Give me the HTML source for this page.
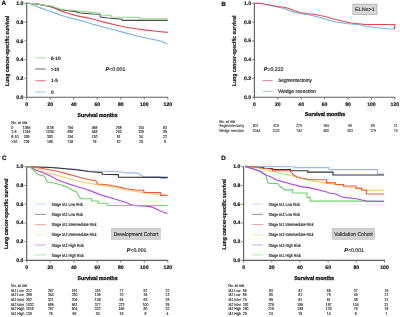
<!DOCTYPE html>
<html><head><meta charset="utf-8"><title>Kaplan-Meier curves</title>
<style>
html,body{margin:0;padding:0;background:#fff;}
body{width:400px;height:317px;overflow:hidden;}
svg{display:block;font-family:"Liberation Sans", sans-serif;text-rendering:geometricPrecision;filter:blur(0.3px);}
</style></head><body>
<svg width="400" height="317" viewBox="0 0 400 317">
<rect width="400" height="317" fill="#fff"/>
<text x="1.6" y="5.3" font-size="6.3" font-weight="bold" text-anchor="start" fill="#111" stroke="#111" stroke-width="0.22">A</text>
<line x1="26.7" y1="2.8" x2="26.7" y2="97.7" stroke="#606060" stroke-width="1.15"/>
<line x1="26.2" y1="97.2" x2="168.20000000000002" y2="97.2" stroke="#606060" stroke-width="1.15"/>
<line x1="24.4" y1="97.2" x2="26.7" y2="97.2" stroke="#606060" stroke-width="0.8"/>
<text x="23.4" y="99.05" font-size="5.1" font-weight="bold" text-anchor="end" fill="#1a1a1a" stroke="#1a1a1a" stroke-width="0.22">0.0</text>
<line x1="24.4" y1="78.42" x2="26.7" y2="78.42" stroke="#606060" stroke-width="0.8"/>
<text x="23.4" y="80.27" font-size="5.1" font-weight="bold" text-anchor="end" fill="#1a1a1a" stroke="#1a1a1a" stroke-width="0.22">0.2</text>
<line x1="24.4" y1="59.64" x2="26.7" y2="59.64" stroke="#606060" stroke-width="0.8"/>
<text x="23.4" y="61.49" font-size="5.1" font-weight="bold" text-anchor="end" fill="#1a1a1a" stroke="#1a1a1a" stroke-width="0.22">0.4</text>
<line x1="24.4" y1="40.85999999999999" x2="26.7" y2="40.85999999999999" stroke="#606060" stroke-width="0.8"/>
<text x="23.4" y="42.709999999999994" font-size="5.1" font-weight="bold" text-anchor="end" fill="#1a1a1a" stroke="#1a1a1a" stroke-width="0.22">0.6</text>
<line x1="24.4" y1="22.08" x2="26.7" y2="22.08" stroke="#606060" stroke-width="0.8"/>
<text x="23.4" y="23.93" font-size="5.1" font-weight="bold" text-anchor="end" fill="#1a1a1a" stroke="#1a1a1a" stroke-width="0.22">0.8</text>
<line x1="24.4" y1="3.299999999999997" x2="26.7" y2="3.299999999999997" stroke="#606060" stroke-width="0.8"/>
<text x="23.4" y="5.149999999999997" font-size="5.1" font-weight="bold" text-anchor="end" fill="#1a1a1a" stroke="#1a1a1a" stroke-width="0.22">1.0</text>
<line x1="26.7" y1="97.2" x2="26.7" y2="99.5" stroke="#606060" stroke-width="0.8"/>
<text x="26.7" y="106.10000000000001" font-size="5.1" font-weight="bold" text-anchor="middle" fill="#1a1a1a" stroke="#1a1a1a" stroke-width="0.22">0</text>
<line x1="50.21666666666667" y1="97.2" x2="50.21666666666667" y2="99.5" stroke="#606060" stroke-width="0.8"/>
<text x="50.21666666666667" y="106.10000000000001" font-size="5.1" font-weight="bold" text-anchor="middle" fill="#1a1a1a" stroke="#1a1a1a" stroke-width="0.22">20</text>
<line x1="73.73333333333333" y1="97.2" x2="73.73333333333333" y2="99.5" stroke="#606060" stroke-width="0.8"/>
<text x="73.73333333333333" y="106.10000000000001" font-size="5.1" font-weight="bold" text-anchor="middle" fill="#1a1a1a" stroke="#1a1a1a" stroke-width="0.22">40</text>
<line x1="97.25000000000001" y1="97.2" x2="97.25000000000001" y2="99.5" stroke="#606060" stroke-width="0.8"/>
<text x="97.25000000000001" y="106.10000000000001" font-size="5.1" font-weight="bold" text-anchor="middle" fill="#1a1a1a" stroke="#1a1a1a" stroke-width="0.22">60</text>
<line x1="120.76666666666668" y1="97.2" x2="120.76666666666668" y2="99.5" stroke="#606060" stroke-width="0.8"/>
<text x="120.76666666666668" y="106.10000000000001" font-size="5.1" font-weight="bold" text-anchor="middle" fill="#1a1a1a" stroke="#1a1a1a" stroke-width="0.22">80</text>
<line x1="144.28333333333336" y1="97.2" x2="144.28333333333336" y2="99.5" stroke="#606060" stroke-width="0.8"/>
<text x="144.28333333333336" y="106.10000000000001" font-size="5.1" font-weight="bold" text-anchor="middle" fill="#1a1a1a" stroke="#1a1a1a" stroke-width="0.22">100</text>
<line x1="167.8" y1="97.2" x2="167.8" y2="99.5" stroke="#606060" stroke-width="0.8"/>
<text x="167.8" y="106.10000000000001" font-size="5.1" font-weight="bold" text-anchor="middle" fill="#1a1a1a" stroke="#1a1a1a" stroke-width="0.22">120</text>
<text transform="translate(8.7,50.85) rotate(-90)" x="0" y="0" font-size="5.6" font-weight="bold" text-anchor="middle" fill="#1a1a1a" stroke="#1a1a1a" stroke-width="0.22" textLength="70.10000000000001" lengthAdjust="spacingAndGlyphs">Lung cancer-specific survival</text>
<text x="97.6" y="117" font-size="5.6" font-weight="bold" text-anchor="middle" fill="#111" stroke="#111" stroke-width="0.3" textLength="40" lengthAdjust="spacingAndGlyphs">Survival months</text>
<path d="M26.7,3.3 L31,4 L36,6.2 L41,8.1 L46,10 L51,11.5 L56,13.4 L61,15.3 L66,16.8 L76,19.4 L86,22 L92,24 L96,25 L106,27.8 L116,30.3 L126,33.1 L136,35.7 L146,38 L156,40 L161,41.2 L167.5,44" fill="none" stroke="#78b2e2" stroke-width="1.15" stroke-opacity="1"/>
<path d="M26.7,3.3 L36,3.9 L44,5.4 L48,6.2 L52,7.3 L56,8.8 L60,10.6 L66,12.8 L76,15.6 L86,17.6 L92,18.8 L96,20 L106,22.6 L116,25 L126,27.3 L136,28.8 L146,30.1 L156,31.2 L167.7,32.4" fill="none" stroke="#e24a52" stroke-width="1.15" stroke-opacity="1"/>
<path d="M26.7,3.3 L36,3.8 L44,5.3 L52,6.6 L60,9.5 L66,10.5 L76,11.6 L80,13 L92,14 L100,14.3 L100.3,17 L108,18 L122,19.2 L122.3,20.4 L167.7,20.4" fill="none" stroke="#4a4a4a" stroke-width="1.15" stroke-opacity="1"/>
<path d="M26.7,3.3 L36,3.7 L44,5.1 L52,6.3 L60,9 L66,9.8 L76,10.8 L86,11.9 L92,12.4 L100,13.2 L100.3,15 L111,15.4 L111.3,17 L139,17.4 L139.3,18.8 L167.7,18.8" fill="none" stroke="#90da88" stroke-width="1.15" stroke-opacity="1"/>
<line x1="35.3" y1="57.8" x2="45.6" y2="57.8" stroke="#9edc98" stroke-width="1.0"/>
<text x="51.1" y="59.5" font-size="4.8" font-weight="bold" text-anchor="start" fill="#2a2a2a" stroke="#2a2a2a" stroke-width="0.12">6-10</text>
<line x1="35.3" y1="69" x2="45.6" y2="69" stroke="#666" stroke-width="1.0"/>
<text x="51.1" y="70.7" font-size="4.8" font-weight="bold" text-anchor="start" fill="#2a2a2a" stroke="#2a2a2a" stroke-width="0.12">&gt;10</text>
<line x1="35.3" y1="80.75" x2="45.6" y2="80.75" stroke="#ec6a72" stroke-width="1.0"/>
<text x="51.1" y="82.45" font-size="4.8" font-weight="bold" text-anchor="start" fill="#2a2a2a" stroke="#2a2a2a" stroke-width="0.12">1-5</text>
<line x1="35.3" y1="92" x2="45.6" y2="92" stroke="#98cbe2" stroke-width="1.0"/>
<text x="51.1" y="93.7" font-size="4.8" font-weight="bold" text-anchor="start" fill="#2a2a2a" stroke="#2a2a2a" stroke-width="0.12">0</text>
<text x="105.5" y="70.8" font-size="5.2" fill="#222" stroke="#222" stroke-width="0.14"><tspan font-style="italic" font-weight="bold" font-size="5.62">P</tspan>&lt;0.001</text>
<text transform="translate(11.2,124.1) scale(0.86,1)" font-size="4.2" font-weight="normal" text-anchor="start" fill="#222" stroke="#222" stroke-width="0.12">No. at risk</text>
<text transform="translate(11.2,128.8) scale(0.86,1)" font-size="4.2" font-weight="normal" text-anchor="start" fill="#222" stroke="#222" stroke-width="0.12">0</text>
<text transform="translate(26.6,128.8) scale(0.82,1)" font-size="4.2" font-weight="normal" text-anchor="middle" fill="#222" stroke="#222" stroke-width="0.12">1065</text>
<text transform="translate(49.9,128.8) scale(0.82,1)" font-size="4.2" font-weight="normal" text-anchor="middle" fill="#222" stroke="#222" stroke-width="0.12">1108</text>
<text transform="translate(70.4,128.8) scale(0.82,1)" font-size="4.2" font-weight="normal" text-anchor="middle" fill="#222" stroke="#222" stroke-width="0.12">754</text>
<text transform="translate(94.5,128.8) scale(0.82,1)" font-size="4.2" font-weight="normal" text-anchor="middle" fill="#222" stroke="#222" stroke-width="0.12">466</text>
<text transform="translate(118.7,128.8) scale(0.82,1)" font-size="4.2" font-weight="normal" text-anchor="middle" fill="#222" stroke="#222" stroke-width="0.12">268</text>
<text transform="translate(141,128.8) scale(0.82,1)" font-size="4.2" font-weight="normal" text-anchor="middle" fill="#222" stroke="#222" stroke-width="0.12">134</text>
<text transform="translate(165,128.8) scale(0.82,1)" font-size="4.2" font-weight="normal" text-anchor="middle" fill="#222" stroke="#222" stroke-width="0.12">63</text>
<text transform="translate(11.2,133.43) scale(0.86,1)" font-size="4.2" font-weight="normal" text-anchor="start" fill="#222" stroke="#222" stroke-width="0.12">1-5</text>
<text transform="translate(26.6,133.43) scale(0.82,1)" font-size="4.2" font-weight="normal" text-anchor="middle" fill="#222" stroke="#222" stroke-width="0.12">1246</text>
<text transform="translate(49.9,133.43) scale(0.82,1)" font-size="4.2" font-weight="normal" text-anchor="middle" fill="#222" stroke="#222" stroke-width="0.12">1036</text>
<text transform="translate(70.4,133.43) scale(0.82,1)" font-size="4.2" font-weight="normal" text-anchor="middle" fill="#222" stroke="#222" stroke-width="0.12">690</text>
<text transform="translate(94.5,133.43) scale(0.82,1)" font-size="4.2" font-weight="normal" text-anchor="middle" fill="#222" stroke="#222" stroke-width="0.12">446</text>
<text transform="translate(118.7,133.43) scale(0.82,1)" font-size="4.2" font-weight="normal" text-anchor="middle" fill="#222" stroke="#222" stroke-width="0.12">263</text>
<text transform="translate(141,133.43) scale(0.82,1)" font-size="4.2" font-weight="normal" text-anchor="middle" fill="#222" stroke="#222" stroke-width="0.12">130</text>
<text transform="translate(165,133.43) scale(0.82,1)" font-size="4.2" font-weight="normal" text-anchor="middle" fill="#222" stroke="#222" stroke-width="0.12">39</text>
<text transform="translate(11.2,138.06) scale(0.86,1)" font-size="4.2" font-weight="normal" text-anchor="start" fill="#222" stroke="#222" stroke-width="0.12">6-10</text>
<text transform="translate(26.6,138.06) scale(0.82,1)" font-size="4.2" font-weight="normal" text-anchor="middle" fill="#222" stroke="#222" stroke-width="0.12">309</text>
<text transform="translate(49.9,138.06) scale(0.82,1)" font-size="4.2" font-weight="normal" text-anchor="middle" fill="#222" stroke="#222" stroke-width="0.12">300</text>
<text transform="translate(70.4,138.06) scale(0.82,1)" font-size="4.2" font-weight="normal" text-anchor="middle" fill="#222" stroke="#222" stroke-width="0.12">194</text>
<text transform="translate(94.5,138.06) scale(0.82,1)" font-size="4.2" font-weight="normal" text-anchor="middle" fill="#222" stroke="#222" stroke-width="0.12">130</text>
<text transform="translate(118.7,138.06) scale(0.82,1)" font-size="4.2" font-weight="normal" text-anchor="middle" fill="#222" stroke="#222" stroke-width="0.12">81</text>
<text transform="translate(141,138.06) scale(0.82,1)" font-size="4.2" font-weight="normal" text-anchor="middle" fill="#222" stroke="#222" stroke-width="0.12">34</text>
<text transform="translate(165,138.06) scale(0.82,1)" font-size="4.2" font-weight="normal" text-anchor="middle" fill="#222" stroke="#222" stroke-width="0.12">22</text>
<text transform="translate(11.2,142.69) scale(0.86,1)" font-size="4.2" font-weight="normal" text-anchor="start" fill="#222" stroke="#222" stroke-width="0.12">&gt;10</text>
<text transform="translate(26.6,142.69) scale(0.82,1)" font-size="4.2" font-weight="normal" text-anchor="middle" fill="#222" stroke="#222" stroke-width="0.12">239</text>
<text transform="translate(49.9,142.69) scale(0.82,1)" font-size="4.2" font-weight="normal" text-anchor="middle" fill="#222" stroke="#222" stroke-width="0.12">186</text>
<text transform="translate(70.4,142.69) scale(0.82,1)" font-size="4.2" font-weight="normal" text-anchor="middle" fill="#222" stroke="#222" stroke-width="0.12">136</text>
<text transform="translate(94.5,142.69) scale(0.82,1)" font-size="4.2" font-weight="normal" text-anchor="middle" fill="#222" stroke="#222" stroke-width="0.12">79</text>
<text transform="translate(118.7,142.69) scale(0.82,1)" font-size="4.2" font-weight="normal" text-anchor="middle" fill="#222" stroke="#222" stroke-width="0.12">52</text>
<text transform="translate(141,142.69) scale(0.82,1)" font-size="4.2" font-weight="normal" text-anchor="middle" fill="#222" stroke="#222" stroke-width="0.12">25</text>
<text transform="translate(165,142.69) scale(0.82,1)" font-size="4.2" font-weight="normal" text-anchor="middle" fill="#222" stroke="#222" stroke-width="0.12">9</text>
<text x="221.5" y="5.8" font-size="6.0" font-weight="bold" text-anchor="start" fill="#111" stroke="#111" stroke-width="0.22">B</text>
<line x1="254.4" y1="2.8" x2="254.4" y2="97.7" stroke="#606060" stroke-width="1.15"/>
<line x1="253.9" y1="97.2" x2="395.2" y2="97.2" stroke="#606060" stroke-width="1.15"/>
<line x1="252.1" y1="97.2" x2="254.4" y2="97.2" stroke="#606060" stroke-width="0.8"/>
<text x="251.1" y="98.65" font-size="5.1" font-weight="bold" text-anchor="end" fill="#2a2a2a" stroke="#2a2a2a" stroke-width="0.22">0.0</text>
<line x1="252.1" y1="78.42" x2="254.4" y2="78.42" stroke="#606060" stroke-width="0.8"/>
<text x="251.1" y="79.87" font-size="5.1" font-weight="bold" text-anchor="end" fill="#2a2a2a" stroke="#2a2a2a" stroke-width="0.22">0.2</text>
<line x1="252.1" y1="59.64" x2="254.4" y2="59.64" stroke="#606060" stroke-width="0.8"/>
<text x="251.1" y="61.09" font-size="5.1" font-weight="bold" text-anchor="end" fill="#2a2a2a" stroke="#2a2a2a" stroke-width="0.22">0.4</text>
<line x1="252.1" y1="40.85999999999999" x2="254.4" y2="40.85999999999999" stroke="#606060" stroke-width="0.8"/>
<text x="251.1" y="42.309999999999995" font-size="5.1" font-weight="bold" text-anchor="end" fill="#2a2a2a" stroke="#2a2a2a" stroke-width="0.22">0.6</text>
<line x1="252.1" y1="22.08" x2="254.4" y2="22.08" stroke="#606060" stroke-width="0.8"/>
<text x="251.1" y="23.529999999999998" font-size="5.1" font-weight="bold" text-anchor="end" fill="#2a2a2a" stroke="#2a2a2a" stroke-width="0.22">0.8</text>
<line x1="252.1" y1="3.299999999999997" x2="254.4" y2="3.299999999999997" stroke="#606060" stroke-width="0.8"/>
<text x="251.1" y="4.749999999999997" font-size="5.1" font-weight="bold" text-anchor="end" fill="#2a2a2a" stroke="#2a2a2a" stroke-width="0.22">1.0</text>
<line x1="254.4" y1="97.2" x2="254.4" y2="99.5" stroke="#606060" stroke-width="0.8"/>
<text x="254.4" y="106.10000000000001" font-size="5.1" font-weight="bold" text-anchor="middle" fill="#2a2a2a" stroke="#2a2a2a" stroke-width="0.22">0</text>
<line x1="277.8" y1="97.2" x2="277.8" y2="99.5" stroke="#606060" stroke-width="0.8"/>
<text x="277.8" y="106.10000000000001" font-size="5.1" font-weight="bold" text-anchor="middle" fill="#2a2a2a" stroke="#2a2a2a" stroke-width="0.22">20</text>
<line x1="301.2" y1="97.2" x2="301.2" y2="99.5" stroke="#606060" stroke-width="0.8"/>
<text x="301.2" y="106.10000000000001" font-size="5.1" font-weight="bold" text-anchor="middle" fill="#2a2a2a" stroke="#2a2a2a" stroke-width="0.22">40</text>
<line x1="324.6" y1="97.2" x2="324.6" y2="99.5" stroke="#606060" stroke-width="0.8"/>
<text x="324.6" y="106.10000000000001" font-size="5.1" font-weight="bold" text-anchor="middle" fill="#2a2a2a" stroke="#2a2a2a" stroke-width="0.22">60</text>
<line x1="348.0" y1="97.2" x2="348.0" y2="99.5" stroke="#606060" stroke-width="0.8"/>
<text x="348.0" y="106.10000000000001" font-size="5.1" font-weight="bold" text-anchor="middle" fill="#2a2a2a" stroke="#2a2a2a" stroke-width="0.22">80</text>
<line x1="371.4" y1="97.2" x2="371.4" y2="99.5" stroke="#606060" stroke-width="0.8"/>
<text x="371.4" y="106.10000000000001" font-size="5.1" font-weight="bold" text-anchor="middle" fill="#2a2a2a" stroke="#2a2a2a" stroke-width="0.22">100</text>
<line x1="394.8" y1="97.2" x2="394.8" y2="99.5" stroke="#606060" stroke-width="0.8"/>
<text x="394.8" y="106.10000000000001" font-size="5.1" font-weight="bold" text-anchor="middle" fill="#2a2a2a" stroke="#2a2a2a" stroke-width="0.22">120</text>
<text transform="translate(236.1,50.800000000000004) rotate(-90)" x="0" y="0" font-size="5.6" font-weight="bold" text-anchor="middle" fill="#2a2a2a" stroke="#2a2a2a" stroke-width="0.22" textLength="70.2" lengthAdjust="spacingAndGlyphs">Lung cancer-specific survival</text>
<text x="325" y="116.4" font-size="5.6" font-weight="bold" text-anchor="middle" fill="#111" stroke="#111" stroke-width="0.3" textLength="40.5" lengthAdjust="spacingAndGlyphs">Survival months</text>
<path d="M254.4,3.3 L262,3.5 L264,4 L274,6.2 L284,8.5 L289,10.5 L294,12.3 L300,13.5 L310,15 L320,17.5 L325,19 L330,20.5 L336,22 L346,23.5 L356,24.5 L361,25 L366,26.5 L375,27.5 L385,28.5 L390,29 L395,29" fill="none" stroke="#78b2e2" stroke-width="1.15" stroke-opacity="1"/>
<path d="M254.4,3.3 L262,3.5 L264,4 L274,6 L284,7.2 L289,8.5 L290,9 L295,11 L300,12.5 L305,13.5 L310,14 L315,14.5 L320,15.5 L325,16.5 L330,18 L336,19.5 L340,20.5 L343,21.5 L346,22 L351,23 L356,23.5 L361,24 L365,24.5 L394.6,24.5 L394.6,29" fill="none" stroke="#e24a52" stroke-width="1.15" stroke-opacity="1"/>
<rect x="352.9" y="4.1" width="24.1" height="10.3" fill="#d8d8d8" stroke="#9a9a9a" stroke-width="0.6"/>
<text x="355" y="11.2" font-size="5" font-weight="normal" text-anchor="start" fill="#1a1a1a" stroke="#1a1a1a" stroke-width="0.1" textLength="19.8" lengthAdjust="spacingAndGlyphs">ELNs&gt;1</text>
<text x="263.7" y="70.9" font-size="5.2" fill="#222" stroke="#222" stroke-width="0.14"><tspan font-style="italic" font-weight="bold" font-size="5.62">P</tspan>=0.222</text>
<line x1="262.7" y1="80.6" x2="272.7" y2="80.6" stroke="#ec7078" stroke-width="0.9"/>
<text x="278.2" y="82.3" font-size="5" font-weight="normal" text-anchor="start" fill="#222" stroke="#222" stroke-width="0.15" textLength="33.7" lengthAdjust="spacingAndGlyphs">Segmentectomy</text>
<line x1="262.7" y1="91.5" x2="272.7" y2="91.5" stroke="#98cbe2" stroke-width="0.9"/>
<text x="278.2" y="93.2" font-size="5" font-weight="normal" text-anchor="start" fill="#222" stroke="#222" stroke-width="0.15" textLength="38" lengthAdjust="spacingAndGlyphs">Wedge resection</text>
<text transform="translate(219.2,122.6) scale(0.86,1)" font-size="4.2" font-weight="normal" text-anchor="start" fill="#222" stroke="#222" stroke-width="0.12">No. at risk</text>
<text x="219.2" y="127.3" font-size="4.2" font-weight="normal" text-anchor="start" fill="#222" stroke="#222" stroke-width="0.08" textLength="25" lengthAdjust="spacingAndGlyphs">Segmentectomy</text>
<text transform="translate(252.7,127.3) scale(0.82,1)" font-size="4.2" font-weight="normal" text-anchor="start" fill="#222" stroke="#222" stroke-width="0.08">501</text>
<text transform="translate(276,127.3) scale(0.82,1)" font-size="4.2" font-weight="normal" text-anchor="middle" fill="#222" stroke="#222" stroke-width="0.08">419</text>
<text transform="translate(299,127.3) scale(0.82,1)" font-size="4.2" font-weight="normal" text-anchor="middle" fill="#222" stroke="#222" stroke-width="0.08">279</text>
<text transform="translate(326,127.3) scale(0.82,1)" font-size="4.2" font-weight="normal" text-anchor="middle" fill="#222" stroke="#222" stroke-width="0.08">184</text>
<text transform="translate(350,127.3) scale(0.82,1)" font-size="4.2" font-weight="normal" text-anchor="middle" fill="#222" stroke="#222" stroke-width="0.08">99</text>
<text transform="translate(373,127.3) scale(0.82,1)" font-size="4.2" font-weight="normal" text-anchor="middle" fill="#222" stroke="#222" stroke-width="0.08">80</text>
<text transform="translate(395.7,127.3) scale(0.82,1)" font-size="4.2" font-weight="normal" text-anchor="middle" fill="#222" stroke="#222" stroke-width="0.08">21</text>
<text x="219.2" y="132.05" font-size="4.2" font-weight="normal" text-anchor="start" fill="#222" stroke="#222" stroke-width="0.08" textLength="25" lengthAdjust="spacingAndGlyphs">Wedge resection</text>
<text transform="translate(252.7,132.05) scale(0.82,1)" font-size="4.2" font-weight="normal" text-anchor="start" fill="#222" stroke="#222" stroke-width="0.08">1044</text>
<text transform="translate(276,132.05) scale(0.82,1)" font-size="4.2" font-weight="normal" text-anchor="middle" fill="#222" stroke="#222" stroke-width="0.08">1132</text>
<text transform="translate(299,132.05) scale(0.82,1)" font-size="4.2" font-weight="normal" text-anchor="middle" fill="#222" stroke="#222" stroke-width="0.08">743</text>
<text transform="translate(326,132.05) scale(0.82,1)" font-size="4.2" font-weight="normal" text-anchor="middle" fill="#222" stroke="#222" stroke-width="0.08">460</text>
<text transform="translate(350,132.05) scale(0.82,1)" font-size="4.2" font-weight="normal" text-anchor="middle" fill="#222" stroke="#222" stroke-width="0.08">303</text>
<text transform="translate(373,132.05) scale(0.82,1)" font-size="4.2" font-weight="normal" text-anchor="middle" fill="#222" stroke="#222" stroke-width="0.08">179</text>
<text transform="translate(395.7,132.05) scale(0.82,1)" font-size="4.2" font-weight="normal" text-anchor="middle" fill="#222" stroke="#222" stroke-width="0.08">74</text>
<text x="1.9" y="160.4" font-size="6.3" font-weight="bold" text-anchor="start" fill="#111" stroke="#111" stroke-width="0.22">C</text>
<line x1="26.7" y1="166.3" x2="26.7" y2="260.9" stroke="#606060" stroke-width="1.15"/>
<line x1="26.2" y1="260.4" x2="168.20000000000002" y2="260.4" stroke="#606060" stroke-width="1.15"/>
<line x1="24.4" y1="260.4" x2="26.7" y2="260.4" stroke="#606060" stroke-width="0.8"/>
<text x="23.4" y="261.7" font-size="5.1" font-weight="bold" text-anchor="end" fill="#1a1a1a" stroke="#1a1a1a" stroke-width="0.22">0.0</text>
<line x1="24.4" y1="241.67999999999998" x2="26.7" y2="241.67999999999998" stroke="#606060" stroke-width="0.8"/>
<text x="23.4" y="242.98" font-size="5.1" font-weight="bold" text-anchor="end" fill="#1a1a1a" stroke="#1a1a1a" stroke-width="0.22">0.2</text>
<line x1="24.4" y1="222.95999999999998" x2="26.7" y2="222.95999999999998" stroke="#606060" stroke-width="0.8"/>
<text x="23.4" y="224.26" font-size="5.1" font-weight="bold" text-anchor="end" fill="#1a1a1a" stroke="#1a1a1a" stroke-width="0.22">0.4</text>
<line x1="24.4" y1="204.24" x2="26.7" y2="204.24" stroke="#606060" stroke-width="0.8"/>
<text x="23.4" y="205.54000000000002" font-size="5.1" font-weight="bold" text-anchor="end" fill="#1a1a1a" stroke="#1a1a1a" stroke-width="0.22">0.6</text>
<line x1="24.4" y1="185.52" x2="26.7" y2="185.52" stroke="#606060" stroke-width="0.8"/>
<text x="23.4" y="186.82000000000002" font-size="5.1" font-weight="bold" text-anchor="end" fill="#1a1a1a" stroke="#1a1a1a" stroke-width="0.22">0.8</text>
<line x1="24.4" y1="166.8" x2="26.7" y2="166.8" stroke="#606060" stroke-width="0.8"/>
<text x="23.4" y="168.10000000000002" font-size="5.1" font-weight="bold" text-anchor="end" fill="#1a1a1a" stroke="#1a1a1a" stroke-width="0.22">1.0</text>
<line x1="26.7" y1="260.4" x2="26.7" y2="262.7" stroke="#606060" stroke-width="0.8"/>
<text x="26.7" y="269.29999999999995" font-size="5.1" font-weight="bold" text-anchor="middle" fill="#1a1a1a" stroke="#1a1a1a" stroke-width="0.22">0</text>
<line x1="50.21666666666667" y1="260.4" x2="50.21666666666667" y2="262.7" stroke="#606060" stroke-width="0.8"/>
<text x="50.21666666666667" y="269.29999999999995" font-size="5.1" font-weight="bold" text-anchor="middle" fill="#1a1a1a" stroke="#1a1a1a" stroke-width="0.22">20</text>
<line x1="73.73333333333333" y1="260.4" x2="73.73333333333333" y2="262.7" stroke="#606060" stroke-width="0.8"/>
<text x="73.73333333333333" y="269.29999999999995" font-size="5.1" font-weight="bold" text-anchor="middle" fill="#1a1a1a" stroke="#1a1a1a" stroke-width="0.22">40</text>
<line x1="97.25000000000001" y1="260.4" x2="97.25000000000001" y2="262.7" stroke="#606060" stroke-width="0.8"/>
<text x="97.25000000000001" y="269.29999999999995" font-size="5.1" font-weight="bold" text-anchor="middle" fill="#1a1a1a" stroke="#1a1a1a" stroke-width="0.22">60</text>
<line x1="120.76666666666668" y1="260.4" x2="120.76666666666668" y2="262.7" stroke="#606060" stroke-width="0.8"/>
<text x="120.76666666666668" y="269.29999999999995" font-size="5.1" font-weight="bold" text-anchor="middle" fill="#1a1a1a" stroke="#1a1a1a" stroke-width="0.22">80</text>
<line x1="144.28333333333336" y1="260.4" x2="144.28333333333336" y2="262.7" stroke="#606060" stroke-width="0.8"/>
<text x="144.28333333333336" y="269.29999999999995" font-size="5.1" font-weight="bold" text-anchor="middle" fill="#1a1a1a" stroke="#1a1a1a" stroke-width="0.22">100</text>
<line x1="167.8" y1="260.4" x2="167.8" y2="262.7" stroke="#606060" stroke-width="0.8"/>
<text x="167.8" y="269.29999999999995" font-size="5.1" font-weight="bold" text-anchor="middle" fill="#1a1a1a" stroke="#1a1a1a" stroke-width="0.22">120</text>
<text transform="translate(8.3,213.89999999999998) rotate(-90)" x="0" y="0" font-size="5.6" font-weight="bold" text-anchor="middle" fill="#1a1a1a" stroke="#1a1a1a" stroke-width="0.22" textLength="70.4" lengthAdjust="spacingAndGlyphs">Lung cancer-specific survival</text>
<text x="97.6" y="280.2" font-size="5.6" font-weight="bold" text-anchor="middle" fill="#111" stroke="#111" stroke-width="0.3" textLength="40" lengthAdjust="spacingAndGlyphs">Survival months</text>
<path d="M26.7,166.8 L50,167.3 L60,168 L76,169.4 L88.6,171 L101,171.3 L120,171.8 L124,172.6 L137.7,173.1 L143.4,176.6 L160.4,176.8 L160.8,178.3 L167.7,178.3" fill="none" stroke="#9db8ea" stroke-width="1.15" stroke-opacity="1"/>
<path d="M26.7,166.8 L50,167.5 L60,168.2 L76,169.8 L88.6,171.5 L102,172.7 L102.5,174.2 L118.3,174.6 L118.5,177.2 L167.7,177.4" fill="none" stroke="#333333" stroke-width="1.15" stroke-opacity="1"/>
<path d="M26.7,166.8 L38.6,169.8 L46,172.2 L56,175 L66,177.8 L76,180.8 L86,182.7 L96,184.5 L106,186.1 L116,187.6 L126,190 L136,191.4 L143.7,192.6 L160,195 L167.7,195.8" fill="none" stroke="#f3cf68" stroke-width="1.15" stroke-opacity="1"/>
<path d="M26.7,166.8 L33.6,167 L45,169 L57.6,171.3 L66,173.6 L76,176.3 L86,179 L96,181 L97.5,184 L106,184.5 L111,185.5 L116,186.3 L121,187.5 L126,188.8 L136,190 L143.7,190.4 L144,192.4 L160.4,192.6 L160.8,195.3 L167.7,195.3" fill="none" stroke="#eb5a45" stroke-width="1.15" stroke-opacity="1"/>
<path d="M26.7,166.8 L30,167 L36,170.3 L41,172 L46,174 L51,176.2 L56,179 L61,181.2 L66,183 L70,184.4 L76,186.3 L80,187.5 L86,189.3 L90,190.6 L100,194.6 L109,197.3 L118,200 L127,202.7 L131,204.9 L136,205.6 L146,206.2 L151,206.9 L156,208.7 L161,211.2 L167.5,213.5" fill="none" stroke="#b048e2" stroke-width="1.15" stroke-opacity="1"/>
<path d="M26.7,166.8 L30.5,167 L32.3,169.2 L36.1,173 L38.5,174.5 L42.4,175.6 L44.5,176.2 L46,179.5 L47.2,182 L51.3,182.5 L56,183.5 L61,185 L66.4,186.6 L72.7,190.4 L76.5,192 L79.5,197.2 L81,198.7 L91.5,198.7 L91.5,201 L98.2,201 L98.2,203.2 L107.2,203.2 L107.2,205.5 L167.5,205.5" fill="none" stroke="#6cd26a" stroke-width="1.15" stroke-opacity="1"/>
<line x1="35" y1="204.2" x2="46" y2="204.2" stroke="#9db8ea" stroke-width="0.85" stroke-opacity="0.62"/>
<text transform="translate(51.6,205.79999999999998) scale(0.82,1)" font-size="4.4" font-weight="normal" text-anchor="start" fill="#222" stroke="#222" stroke-width="0.15">Stage IA1 Low Risk</text>
<line x1="35" y1="214.4" x2="46" y2="214.4" stroke="#333333" stroke-width="0.85" stroke-opacity="0.62"/>
<text transform="translate(51.6,216.0) scale(0.82,1)" font-size="4.4" font-weight="normal" text-anchor="start" fill="#222" stroke="#222" stroke-width="0.15">Stage IA2 Low Risk</text>
<line x1="35" y1="224.5" x2="46" y2="224.5" stroke="#eb5a45" stroke-width="0.85" stroke-opacity="0.62"/>
<text transform="translate(51.6,226.1) scale(0.82,1)" font-size="4.4" font-weight="normal" text-anchor="start" fill="#222" stroke="#222" stroke-width="0.15">Stage IA1 Intermediate Risk</text>
<line x1="35" y1="234.8" x2="46" y2="234.8" stroke="#f3cf68" stroke-width="0.85" stroke-opacity="0.62"/>
<text transform="translate(51.6,236.4) scale(0.82,1)" font-size="4.4" font-weight="normal" text-anchor="start" fill="#222" stroke="#222" stroke-width="0.15">Stage IA2 Intermediate Risk</text>
<line x1="35" y1="245" x2="46" y2="245" stroke="#b048e2" stroke-width="0.85" stroke-opacity="0.62"/>
<text transform="translate(51.6,246.6) scale(0.82,1)" font-size="4.4" font-weight="normal" text-anchor="start" fill="#222" stroke="#222" stroke-width="0.15">Stage IA2 High Risk</text>
<line x1="35" y1="254.9" x2="46" y2="254.9" stroke="#6cd26a" stroke-width="0.85" stroke-opacity="0.62"/>
<text transform="translate(51.6,256.5) scale(0.82,1)" font-size="4.4" font-weight="normal" text-anchor="start" fill="#222" stroke="#222" stroke-width="0.15">Stage IA1 High Risk</text>
<rect x="111.7" y="228.3" width="48.6" height="11" fill="#d3d3d3" stroke="#b0b0b0" stroke-width="0.5"/>
<text x="136" y="236.2" font-size="5.6" font-weight="normal" text-anchor="middle" fill="#1a1a1a" stroke="#1a1a1a" stroke-width="0.1" textLength="44.6" lengthAdjust="spacingAndGlyphs">Development Cohort</text>
<text x="126.7" y="252" font-size="5.2" fill="#222" stroke="#222" stroke-width="0.14"><tspan font-style="italic" font-weight="bold" font-size="5.62">P</tspan>&lt;0.001</text>
<text transform="translate(11.1,286.7) scale(0.86,1)" font-size="4.2" font-weight="normal" text-anchor="start" fill="#222" stroke="#222" stroke-width="0.12">No. at risk</text>
<text transform="translate(11.1,291.5) scale(0.83,1)" font-size="4.2" font-weight="normal" text-anchor="start" fill="#222" stroke="#222" stroke-width="0.12">IA1 Low</text>
<text transform="translate(26.1,291.5) scale(0.82,1)" font-size="4.2" font-weight="normal" text-anchor="start" fill="#222" stroke="#222" stroke-width="0.12">312</text>
<text transform="translate(50.8,291.5) scale(0.82,1)" font-size="4.2" font-weight="normal" text-anchor="middle" fill="#222" stroke="#222" stroke-width="0.12">267</text>
<text transform="translate(74.5,291.5) scale(0.82,1)" font-size="4.2" font-weight="normal" text-anchor="middle" fill="#222" stroke="#222" stroke-width="0.12">191</text>
<text transform="translate(97.7,291.5) scale(0.82,1)" font-size="4.2" font-weight="normal" text-anchor="middle" fill="#222" stroke="#222" stroke-width="0.12">116</text>
<text transform="translate(121.5,291.5) scale(0.82,1)" font-size="4.2" font-weight="normal" text-anchor="middle" fill="#222" stroke="#222" stroke-width="0.12">77</text>
<text transform="translate(145.5,291.5) scale(0.82,1)" font-size="4.2" font-weight="normal" text-anchor="middle" fill="#222" stroke="#222" stroke-width="0.12">52</text>
<text transform="translate(167.5,291.5) scale(0.82,1)" font-size="4.2" font-weight="normal" text-anchor="middle" fill="#222" stroke="#222" stroke-width="0.12">22</text>
<text transform="translate(11.1,296.2) scale(0.83,1)" font-size="4.2" font-weight="normal" text-anchor="start" fill="#222" stroke="#222" stroke-width="0.12">IA2 Low</text>
<text transform="translate(26.1,296.2) scale(0.82,1)" font-size="4.2" font-weight="normal" text-anchor="start" fill="#222" stroke="#222" stroke-width="0.12">386</text>
<text transform="translate(50.8,296.2) scale(0.82,1)" font-size="4.2" font-weight="normal" text-anchor="middle" fill="#222" stroke="#222" stroke-width="0.12">344</text>
<text transform="translate(74.5,296.2) scale(0.82,1)" font-size="4.2" font-weight="normal" text-anchor="middle" fill="#222" stroke="#222" stroke-width="0.12">230</text>
<text transform="translate(97.7,296.2) scale(0.82,1)" font-size="4.2" font-weight="normal" text-anchor="middle" fill="#222" stroke="#222" stroke-width="0.12">136</text>
<text transform="translate(121.5,296.2) scale(0.82,1)" font-size="4.2" font-weight="normal" text-anchor="middle" fill="#222" stroke="#222" stroke-width="0.12">70</text>
<text transform="translate(145.5,296.2) scale(0.82,1)" font-size="4.2" font-weight="normal" text-anchor="middle" fill="#222" stroke="#222" stroke-width="0.12">36</text>
<text transform="translate(167.5,296.2) scale(0.82,1)" font-size="4.2" font-weight="normal" text-anchor="middle" fill="#222" stroke="#222" stroke-width="0.12">13</text>
<text transform="translate(11.1,300.9) scale(0.83,1)" font-size="4.2" font-weight="normal" text-anchor="start" fill="#222" stroke="#222" stroke-width="0.12">IA1 Inter</text>
<text transform="translate(26.1,300.9) scale(0.82,1)" font-size="4.2" font-weight="normal" text-anchor="start" fill="#222" stroke="#222" stroke-width="0.12">382</text>
<text transform="translate(50.8,300.9) scale(0.82,1)" font-size="4.2" font-weight="normal" text-anchor="middle" fill="#222" stroke="#222" stroke-width="0.12">321</text>
<text transform="translate(74.5,300.9) scale(0.82,1)" font-size="4.2" font-weight="normal" text-anchor="middle" fill="#222" stroke="#222" stroke-width="0.12">206</text>
<text transform="translate(97.7,300.9) scale(0.82,1)" font-size="4.2" font-weight="normal" text-anchor="middle" fill="#222" stroke="#222" stroke-width="0.12">138</text>
<text transform="translate(121.5,300.9) scale(0.82,1)" font-size="4.2" font-weight="normal" text-anchor="middle" fill="#222" stroke="#222" stroke-width="0.12">84</text>
<text transform="translate(145.5,300.9) scale(0.82,1)" font-size="4.2" font-weight="normal" text-anchor="middle" fill="#222" stroke="#222" stroke-width="0.12">53</text>
<text transform="translate(167.5,300.9) scale(0.82,1)" font-size="4.2" font-weight="normal" text-anchor="middle" fill="#222" stroke="#222" stroke-width="0.12">26</text>
<text transform="translate(11.1,305.6) scale(0.83,1)" font-size="4.2" font-weight="normal" text-anchor="start" fill="#222" stroke="#222" stroke-width="0.12">IA2 Inter</text>
<text transform="translate(26.1,305.6) scale(0.82,1)" font-size="4.2" font-weight="normal" text-anchor="start" fill="#222" stroke="#222" stroke-width="0.12">1032</text>
<text transform="translate(50.8,305.6) scale(0.82,1)" font-size="4.2" font-weight="normal" text-anchor="middle" fill="#222" stroke="#222" stroke-width="0.12">865</text>
<text transform="translate(74.5,305.6) scale(0.82,1)" font-size="4.2" font-weight="normal" text-anchor="middle" fill="#222" stroke="#222" stroke-width="0.12">561</text>
<text transform="translate(97.7,305.6) scale(0.82,1)" font-size="4.2" font-weight="normal" text-anchor="middle" fill="#222" stroke="#222" stroke-width="0.12">377</text>
<text transform="translate(121.5,305.6) scale(0.82,1)" font-size="4.2" font-weight="normal" text-anchor="middle" fill="#222" stroke="#222" stroke-width="0.12">223</text>
<text transform="translate(145.5,305.6) scale(0.82,1)" font-size="4.2" font-weight="normal" text-anchor="middle" fill="#222" stroke="#222" stroke-width="0.12">100</text>
<text transform="translate(167.5,305.6) scale(0.82,1)" font-size="4.2" font-weight="normal" text-anchor="middle" fill="#222" stroke="#222" stroke-width="0.12">39</text>
<text transform="translate(11.1,310.3) scale(0.83,1)" font-size="4.2" font-weight="normal" text-anchor="start" fill="#222" stroke="#222" stroke-width="0.12">IA2 High</text>
<text transform="translate(26.1,310.3) scale(0.82,1)" font-size="4.2" font-weight="normal" text-anchor="start" fill="#222" stroke="#222" stroke-width="0.12">1016</text>
<text transform="translate(50.8,310.3) scale(0.82,1)" font-size="4.2" font-weight="normal" text-anchor="middle" fill="#222" stroke="#222" stroke-width="0.12">787</text>
<text transform="translate(74.5,310.3) scale(0.82,1)" font-size="4.2" font-weight="normal" text-anchor="middle" fill="#222" stroke="#222" stroke-width="0.12">504</text>
<text transform="translate(97.7,310.3) scale(0.82,1)" font-size="4.2" font-weight="normal" text-anchor="middle" fill="#222" stroke="#222" stroke-width="0.12">322</text>
<text transform="translate(121.5,310.3) scale(0.82,1)" font-size="4.2" font-weight="normal" text-anchor="middle" fill="#222" stroke="#222" stroke-width="0.12">165</text>
<text transform="translate(145.5,310.3) scale(0.82,1)" font-size="4.2" font-weight="normal" text-anchor="middle" fill="#222" stroke="#222" stroke-width="0.12">80</text>
<text transform="translate(167.5,310.3) scale(0.82,1)" font-size="4.2" font-weight="normal" text-anchor="middle" fill="#222" stroke="#222" stroke-width="0.12">32</text>
<text transform="translate(11.1,315.0) scale(0.83,1)" font-size="4.2" font-weight="normal" text-anchor="start" fill="#222" stroke="#222" stroke-width="0.12">IA1 High</text>
<text transform="translate(26.1,315.0) scale(0.82,1)" font-size="4.2" font-weight="normal" text-anchor="start" fill="#222" stroke="#222" stroke-width="0.12">130</text>
<text transform="translate(50.8,315.0) scale(0.82,1)" font-size="4.2" font-weight="normal" text-anchor="middle" fill="#222" stroke="#222" stroke-width="0.12">75</text>
<text transform="translate(74.5,315.0) scale(0.82,1)" font-size="4.2" font-weight="normal" text-anchor="middle" fill="#222" stroke="#222" stroke-width="0.12">55</text>
<text transform="translate(97.7,315.0) scale(0.82,1)" font-size="4.2" font-weight="normal" text-anchor="middle" fill="#222" stroke="#222" stroke-width="0.12">30</text>
<text transform="translate(121.5,315.0) scale(0.82,1)" font-size="4.2" font-weight="normal" text-anchor="middle" fill="#222" stroke="#222" stroke-width="0.12">16</text>
<text transform="translate(145.5,315.0) scale(0.82,1)" font-size="4.2" font-weight="normal" text-anchor="middle" fill="#222" stroke="#222" stroke-width="0.12">8</text>
<text transform="translate(167.5,315.0) scale(0.82,1)" font-size="4.2" font-weight="normal" text-anchor="middle" fill="#222" stroke="#222" stroke-width="0.12">4</text>
<text x="221.3" y="160.2" font-size="6.3" font-weight="bold" text-anchor="start" fill="#111" stroke="#111" stroke-width="0.22">D</text>
<line x1="243.6" y1="166.3" x2="243.6" y2="260.9" stroke="#606060" stroke-width="1.15"/>
<line x1="243.1" y1="260.4" x2="384.9" y2="260.4" stroke="#606060" stroke-width="1.15"/>
<line x1="241.29999999999998" y1="260.4" x2="243.6" y2="260.4" stroke="#606060" stroke-width="0.8"/>
<text x="240.29999999999998" y="261.7" font-size="5.1" font-weight="bold" text-anchor="end" fill="#1a1a1a" stroke="#1a1a1a" stroke-width="0.22">0.0</text>
<line x1="241.29999999999998" y1="241.67999999999998" x2="243.6" y2="241.67999999999998" stroke="#606060" stroke-width="0.8"/>
<text x="240.29999999999998" y="242.98" font-size="5.1" font-weight="bold" text-anchor="end" fill="#1a1a1a" stroke="#1a1a1a" stroke-width="0.22">0.2</text>
<line x1="241.29999999999998" y1="222.95999999999998" x2="243.6" y2="222.95999999999998" stroke="#606060" stroke-width="0.8"/>
<text x="240.29999999999998" y="224.26" font-size="5.1" font-weight="bold" text-anchor="end" fill="#1a1a1a" stroke="#1a1a1a" stroke-width="0.22">0.4</text>
<line x1="241.29999999999998" y1="204.24" x2="243.6" y2="204.24" stroke="#606060" stroke-width="0.8"/>
<text x="240.29999999999998" y="205.54000000000002" font-size="5.1" font-weight="bold" text-anchor="end" fill="#1a1a1a" stroke="#1a1a1a" stroke-width="0.22">0.6</text>
<line x1="241.29999999999998" y1="185.52" x2="243.6" y2="185.52" stroke="#606060" stroke-width="0.8"/>
<text x="240.29999999999998" y="186.82000000000002" font-size="5.1" font-weight="bold" text-anchor="end" fill="#1a1a1a" stroke="#1a1a1a" stroke-width="0.22">0.8</text>
<line x1="241.29999999999998" y1="166.8" x2="243.6" y2="166.8" stroke="#606060" stroke-width="0.8"/>
<text x="240.29999999999998" y="168.10000000000002" font-size="5.1" font-weight="bold" text-anchor="end" fill="#1a1a1a" stroke="#1a1a1a" stroke-width="0.22">1.0</text>
<line x1="243.6" y1="260.4" x2="243.6" y2="262.7" stroke="#606060" stroke-width="0.8"/>
<text x="243.6" y="269.29999999999995" font-size="5.1" font-weight="bold" text-anchor="middle" fill="#1a1a1a" stroke="#1a1a1a" stroke-width="0.22">0</text>
<line x1="271.78" y1="260.4" x2="271.78" y2="262.7" stroke="#606060" stroke-width="0.8"/>
<text x="271.78" y="269.29999999999995" font-size="5.1" font-weight="bold" text-anchor="middle" fill="#1a1a1a" stroke="#1a1a1a" stroke-width="0.22">20</text>
<line x1="299.96" y1="260.4" x2="299.96" y2="262.7" stroke="#606060" stroke-width="0.8"/>
<text x="299.96" y="269.29999999999995" font-size="5.1" font-weight="bold" text-anchor="middle" fill="#1a1a1a" stroke="#1a1a1a" stroke-width="0.22">40</text>
<line x1="328.14" y1="260.4" x2="328.14" y2="262.7" stroke="#606060" stroke-width="0.8"/>
<text x="328.14" y="269.29999999999995" font-size="5.1" font-weight="bold" text-anchor="middle" fill="#1a1a1a" stroke="#1a1a1a" stroke-width="0.22">60</text>
<line x1="356.32" y1="260.4" x2="356.32" y2="262.7" stroke="#606060" stroke-width="0.8"/>
<text x="356.32" y="269.29999999999995" font-size="5.1" font-weight="bold" text-anchor="middle" fill="#1a1a1a" stroke="#1a1a1a" stroke-width="0.22">80</text>
<line x1="384.5" y1="260.4" x2="384.5" y2="262.7" stroke="#606060" stroke-width="0.8"/>
<text x="384.5" y="269.29999999999995" font-size="5.1" font-weight="bold" text-anchor="middle" fill="#1a1a1a" stroke="#1a1a1a" stroke-width="0.22">100</text>
<text transform="translate(225.7,214.2) rotate(-90)" x="0" y="0" font-size="5.6" font-weight="bold" text-anchor="middle" fill="#1a1a1a" stroke="#1a1a1a" stroke-width="0.22" textLength="70.4" lengthAdjust="spacingAndGlyphs">Lung cancer-specific survival</text>
<text x="314.2" y="280.2" font-size="5.6" font-weight="bold" text-anchor="middle" fill="#111" stroke="#111" stroke-width="0.3" textLength="40" lengthAdjust="spacingAndGlyphs">Survival months</text>
<path d="M245,166.4 L294.4,166.75 L294.4,167.6 L329,167.6 L329,169.6 L377.4,169.6 L377.4,174 L384.1,174" fill="none" stroke="#9db8ea" stroke-width="1.15" stroke-opacity="1"/>
<path d="M245,166.4 L256.2,167.2 L263.7,167.6 L263.7,168.5 L272.5,168.5 L272.5,169.5 L290.6,169.5 L290.6,170.75 L307.7,170.75 L307.7,172.1 L333,172.1 L333,175 L384.1,175" fill="none" stroke="#333333" stroke-width="1.15" stroke-opacity="1"/>
<path d="M245,166.4 L256,167.6 L262,168.7 L265,170.5 L272.5,171.4 L280,173.2 L290,175.2 L300,178.2 L310,180.5 L320,182.1 L330,183.7 L336,184.8 L343.4,186.2 L356,188.3 L361.6,190.2 L384.1,190.4" fill="none" stroke="#f3cf68" stroke-width="1.15" stroke-opacity="1"/>
<path d="M245,166.4 L256,167.2 L262.5,168 L272.5,169.5 L272.5,170.75 L290,170.75 L293,174.5 L297.6,177.2 L310.2,179.7 L326.6,179.7 L326.6,182.8 L335.5,182.8 L335.5,184.5 L343.4,184.5 L343.4,186 L356,186 L356,188.1 L361.6,188.1 L361.6,190 L366.3,190 L366.3,194 L384.1,194" fill="none" stroke="#eb5a45" stroke-width="1.15" stroke-opacity="1"/>
<path d="M245,166.4 L256,169.5 L262,172 L265.5,174.5 L266.4,177.2 L267.6,182.2 L269.5,183.5 L277.7,183.5 L279.6,186 L282.8,188.5 L284.7,189.8 L292.5,189.8 L292.5,193 L307,193 L307,197.4 L310.2,197.4 L310.2,201.1 L367.6,201.1 L384.1,201.3" fill="none" stroke="#6cd26a" stroke-width="1.15" stroke-opacity="1"/>
<path d="M245,166.4 L256,170 L261,172 L263,173.4 L266,175 L271,177 L276,179.8 L281,181.4 L290,183.7 L300,186.4 L310,187.9 L326,191.7 L330,193.2 L336,194 L341,196.7 L346,197.6 L356,198.7 L362,200 L367,201.3 L384.1,201.4" fill="none" stroke="#b048e2" stroke-width="1.15" stroke-opacity="1"/>
<line x1="252" y1="204.2" x2="263" y2="204.2" stroke="#9db8ea" stroke-width="0.85" stroke-opacity="0.62"/>
<text transform="translate(268.6,205.79999999999998) scale(0.82,1)" font-size="4.4" font-weight="normal" text-anchor="start" fill="#222" stroke="#222" stroke-width="0.15">Stage IA1 Low Risk</text>
<line x1="252" y1="214.4" x2="263" y2="214.4" stroke="#333333" stroke-width="0.85" stroke-opacity="0.62"/>
<text transform="translate(268.6,216.0) scale(0.82,1)" font-size="4.4" font-weight="normal" text-anchor="start" fill="#222" stroke="#222" stroke-width="0.15">Stage IA2 Low Risk</text>
<line x1="252" y1="224.5" x2="263" y2="224.5" stroke="#eb5a45" stroke-width="0.85" stroke-opacity="0.62"/>
<text transform="translate(268.6,226.1) scale(0.82,1)" font-size="4.4" font-weight="normal" text-anchor="start" fill="#222" stroke="#222" stroke-width="0.15">Stage IA1 Intermediate Risk</text>
<line x1="252" y1="234.8" x2="263" y2="234.8" stroke="#f3cf68" stroke-width="0.85" stroke-opacity="0.62"/>
<text transform="translate(268.6,236.4) scale(0.82,1)" font-size="4.4" font-weight="normal" text-anchor="start" fill="#222" stroke="#222" stroke-width="0.15">Stage IA2 Intermediate Risk</text>
<line x1="252" y1="245" x2="263" y2="245" stroke="#b048e2" stroke-width="0.85" stroke-opacity="0.62"/>
<text transform="translate(268.6,246.6) scale(0.82,1)" font-size="4.4" font-weight="normal" text-anchor="start" fill="#222" stroke="#222" stroke-width="0.15">Stage IA2 High Risk</text>
<line x1="252" y1="254.9" x2="263" y2="254.9" stroke="#6cd26a" stroke-width="0.85" stroke-opacity="0.62"/>
<text transform="translate(268.6,256.5) scale(0.82,1)" font-size="4.4" font-weight="normal" text-anchor="start" fill="#222" stroke="#222" stroke-width="0.15">Stage IA1 High Risk</text>
<rect x="332.3" y="228.3" width="42.2" height="11" fill="#d3d3d3" stroke="#b0b0b0" stroke-width="0.5"/>
<text x="353.4" y="236.2" font-size="5.6" font-weight="normal" text-anchor="middle" fill="#1a1a1a" stroke="#1a1a1a" stroke-width="0.1" textLength="38.5" lengthAdjust="spacingAndGlyphs">Validation Cohort</text>
<text x="344.2" y="251.8" font-size="5.2" fill="#222" stroke="#222" stroke-width="0.14"><tspan font-style="italic" font-weight="bold" font-size="5.62">P</tspan>&lt;0.001</text>
<text transform="translate(228.2,286.7) scale(0.86,1)" font-size="4.2" font-weight="normal" text-anchor="start" fill="#222" stroke="#222" stroke-width="0.12">No. at risk</text>
<text transform="translate(228.4,291.5) scale(0.79,1)" font-size="4.2" font-weight="normal" text-anchor="start" fill="#222" stroke="#222" stroke-width="0.12">IA1 Low</text>
<text transform="translate(242.8,291.5) scale(0.82,1)" font-size="4.2" font-weight="normal" text-anchor="start" fill="#222" stroke="#222" stroke-width="0.12">65</text>
<text transform="translate(271,291.5) scale(0.82,1)" font-size="4.2" font-weight="normal" text-anchor="middle" fill="#222" stroke="#222" stroke-width="0.12">63</text>
<text transform="translate(300.2,291.5) scale(0.82,1)" font-size="4.2" font-weight="normal" text-anchor="middle" fill="#222" stroke="#222" stroke-width="0.12">62</text>
<text transform="translate(328.7,291.5) scale(0.82,1)" font-size="4.2" font-weight="normal" text-anchor="middle" fill="#222" stroke="#222" stroke-width="0.12">59</text>
<text transform="translate(355.7,291.5) scale(0.82,1)" font-size="4.2" font-weight="normal" text-anchor="middle" fill="#222" stroke="#222" stroke-width="0.12">37</text>
<text transform="translate(386.5,291.5) scale(0.82,1)" font-size="4.2" font-weight="normal" text-anchor="middle" fill="#222" stroke="#222" stroke-width="0.12">15</text>
<text transform="translate(228.4,296.2) scale(0.79,1)" font-size="4.2" font-weight="normal" text-anchor="start" fill="#222" stroke="#222" stroke-width="0.12">IA2 Low</text>
<text transform="translate(242.8,296.2) scale(0.82,1)" font-size="4.2" font-weight="normal" text-anchor="start" fill="#222" stroke="#222" stroke-width="0.12">86</text>
<text transform="translate(271,296.2) scale(0.82,1)" font-size="4.2" font-weight="normal" text-anchor="middle" fill="#222" stroke="#222" stroke-width="0.12">85</text>
<text transform="translate(300.2,296.2) scale(0.82,1)" font-size="4.2" font-weight="normal" text-anchor="middle" fill="#222" stroke="#222" stroke-width="0.12">81</text>
<text transform="translate(328.7,296.2) scale(0.82,1)" font-size="4.2" font-weight="normal" text-anchor="middle" fill="#222" stroke="#222" stroke-width="0.12">75</text>
<text transform="translate(355.7,296.2) scale(0.82,1)" font-size="4.2" font-weight="normal" text-anchor="middle" fill="#222" stroke="#222" stroke-width="0.12">45</text>
<text transform="translate(386.5,296.2) scale(0.82,1)" font-size="4.2" font-weight="normal" text-anchor="middle" fill="#222" stroke="#222" stroke-width="0.12">21</text>
<text transform="translate(228.4,300.9) scale(0.79,1)" font-size="4.2" font-weight="normal" text-anchor="start" fill="#222" stroke="#222" stroke-width="0.12">IA1 Inter</text>
<text transform="translate(242.8,300.9) scale(0.82,1)" font-size="4.2" font-weight="normal" text-anchor="start" fill="#222" stroke="#222" stroke-width="0.12">75</text>
<text transform="translate(271,300.9) scale(0.82,1)" font-size="4.2" font-weight="normal" text-anchor="middle" fill="#222" stroke="#222" stroke-width="0.12">69</text>
<text transform="translate(300.2,300.9) scale(0.82,1)" font-size="4.2" font-weight="normal" text-anchor="middle" fill="#222" stroke="#222" stroke-width="0.12">61</text>
<text transform="translate(328.7,300.9) scale(0.82,1)" font-size="4.2" font-weight="normal" text-anchor="middle" fill="#222" stroke="#222" stroke-width="0.12">51</text>
<text transform="translate(355.7,300.9) scale(0.82,1)" font-size="4.2" font-weight="normal" text-anchor="middle" fill="#222" stroke="#222" stroke-width="0.12">38</text>
<text transform="translate(386.5,300.9) scale(0.82,1)" font-size="4.2" font-weight="normal" text-anchor="middle" fill="#222" stroke="#222" stroke-width="0.12">11</text>
<text transform="translate(228.4,305.6) scale(0.79,1)" font-size="4.2" font-weight="normal" text-anchor="start" fill="#222" stroke="#222" stroke-width="0.12">IA2 Inter</text>
<text transform="translate(242.8,305.6) scale(0.82,1)" font-size="4.2" font-weight="normal" text-anchor="start" fill="#222" stroke="#222" stroke-width="0.12">252</text>
<text transform="translate(271,305.6) scale(0.82,1)" font-size="4.2" font-weight="normal" text-anchor="middle" fill="#222" stroke="#222" stroke-width="0.12">226</text>
<text transform="translate(300.2,305.6) scale(0.82,1)" font-size="4.2" font-weight="normal" text-anchor="middle" fill="#222" stroke="#222" stroke-width="0.12">195</text>
<text transform="translate(328.7,305.6) scale(0.82,1)" font-size="4.2" font-weight="normal" text-anchor="middle" fill="#222" stroke="#222" stroke-width="0.12">167</text>
<text transform="translate(355.7,305.6) scale(0.82,1)" font-size="4.2" font-weight="normal" text-anchor="middle" fill="#222" stroke="#222" stroke-width="0.12">104</text>
<text transform="translate(386.5,305.6) scale(0.82,1)" font-size="4.2" font-weight="normal" text-anchor="middle" fill="#222" stroke="#222" stroke-width="0.12">31</text>
<text transform="translate(228.4,310.3) scale(0.79,1)" font-size="4.2" font-weight="normal" text-anchor="start" fill="#222" stroke="#222" stroke-width="0.12">IA2 High</text>
<text transform="translate(242.8,310.3) scale(0.82,1)" font-size="4.2" font-weight="normal" text-anchor="start" fill="#222" stroke="#222" stroke-width="0.12">260</text>
<text transform="translate(271,310.3) scale(0.82,1)" font-size="4.2" font-weight="normal" text-anchor="middle" fill="#222" stroke="#222" stroke-width="0.12">218</text>
<text transform="translate(300.2,310.3) scale(0.82,1)" font-size="4.2" font-weight="normal" text-anchor="middle" fill="#222" stroke="#222" stroke-width="0.12">168</text>
<text transform="translate(328.7,310.3) scale(0.82,1)" font-size="4.2" font-weight="normal" text-anchor="middle" fill="#222" stroke="#222" stroke-width="0.12">133</text>
<text transform="translate(355.7,310.3) scale(0.82,1)" font-size="4.2" font-weight="normal" text-anchor="middle" fill="#222" stroke="#222" stroke-width="0.12">76</text>
<text transform="translate(386.5,310.3) scale(0.82,1)" font-size="4.2" font-weight="normal" text-anchor="middle" fill="#222" stroke="#222" stroke-width="0.12">16</text>
<text transform="translate(228.4,315.0) scale(0.79,1)" font-size="4.2" font-weight="normal" text-anchor="start" fill="#222" stroke="#222" stroke-width="0.12">IA1 High</text>
<text transform="translate(242.8,315.0) scale(0.82,1)" font-size="4.2" font-weight="normal" text-anchor="start" fill="#222" stroke="#222" stroke-width="0.12">29</text>
<text transform="translate(271,315.0) scale(0.82,1)" font-size="4.2" font-weight="normal" text-anchor="middle" fill="#222" stroke="#222" stroke-width="0.12">24</text>
<text transform="translate(300.2,315.0) scale(0.82,1)" font-size="4.2" font-weight="normal" text-anchor="middle" fill="#222" stroke="#222" stroke-width="0.12">19</text>
<text transform="translate(328.7,315.0) scale(0.82,1)" font-size="4.2" font-weight="normal" text-anchor="middle" fill="#222" stroke="#222" stroke-width="0.12">14</text>
<text transform="translate(355.7,315.0) scale(0.82,1)" font-size="4.2" font-weight="normal" text-anchor="middle" fill="#222" stroke="#222" stroke-width="0.12">9</text>
<text transform="translate(386.5,315.0) scale(0.82,1)" font-size="4.2" font-weight="normal" text-anchor="middle" fill="#222" stroke="#222" stroke-width="0.12">1</text>
</svg>
</body></html>
